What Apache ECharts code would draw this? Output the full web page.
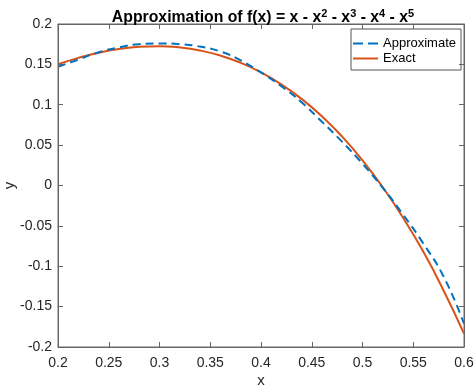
<!DOCTYPE html>
<html>
<head>
<meta charset="utf-8">
<script src="https://cdn.jsdelivr.net/npm/echarts@6/dist/echarts.min.js"></script>
<style>html,body{margin:0;padding:0;background:#fff}#c{width:474px;height:388px}</style>
</head>
<body>
<div id="c"></div>
<script>
const xValues = [0.20,0.22,0.24,0.26,0.28,0.30,0.32,0.34,0.36,0.38,0.40,0.42,0.44,0.46,0.48,0.50,0.52,0.54,0.56,0.58,0.60];
const approxValues = [0.147,0.156,0.165,0.171,0.175,0.176,0.175,0.172,0.166,0.155,0.140,0.123,0.103,0.079,0.054,0.027,-0.003,-0.036,-0.072,-0.113,-0.171];
const exactValues = [0.15008,0.158094,0.164462,0.169066,0.171780,0.17247,0.170991,0.167189,0.160901,0.151953,0.14016,0.125326,0.107243,0.085693,0.060443,0.03125,-0.002145,-0.040011,-0.082134,-0.130313,-0.18336];
const seriesNames = ['Approximate','Exact'];
const xRange = [0.2, 0.6];
const yRange = [-0.2, 0.2];
const titleText = 'Approximation of f(x) = x - x{s|2} - x{s|3} - x{s|4} - x{s|5}';

const font = 'Liberation Sans, Arial, Helvetica, sans-serif';
const axisCol = '#262626';
const boxCol = '#666666';
const chart = echarts.init(document.getElementById('c'), null, {renderer:'canvas'});
const pair = (ys) => xValues.map((x,i)=>[x, ys[i]]);
const fmt = v => String(Math.round(v*1000)/1000);
const mkAxis = (extra) => Object.assign({
  type:'value', axisLine:{show:true,onZero:false,lineStyle:{color:boxCol,width:1}},
  axisTick:{show:true,inside:true,length:5,lineStyle:{color:boxCol,width:1}},
  splitLine:{show:false}, nameMoveOverlap:false
}, extra);
chart.setOption({
  animation:false,
  title:{text:titleText,left:258,textAlign:'center',top:3,
    textStyle:{fontFamily:font,fontSize:15.8,fontWeight:'bold',color:'#000',
      rich:{s:{fontFamily:font,fontSize:11,fontWeight:'bold',color:'#000',verticalAlign:'top',padding:[0,0,9,0]}}}},
  grid:{left:58,right:10,top:24,bottom:41,show:true,borderColor:boxCol,borderWidth:1,
    outerBounds:{left:-60,right:-60,top:-60,bottom:-60}},
  legend:{right:13,top:29,orient:'vertical',itemWidth:25,itemHeight:2,itemGap:0,
    borderColor:'#555',borderWidth:1,padding:[7,5,4,2],borderRadius:0,
    textStyle:{fontFamily:font,fontSize:13,color:'#000',lineHeight:15},
    data:[
      {name:seriesNames[0],icon:'path://M0,0h10v2h-10z M15,0h10v2h-10z',itemStyle:{color:'#0072BD'}},
      {name:seriesNames[1],icon:'path://M0,0h25v2h-25z',itemStyle:{color:'#D95319'}}
    ]},
  xAxis:[
    mkAxis({min:xRange[0],max:xRange[1],interval:0.05,position:'bottom',
      name:'x',nameLocation:'middle',nameGap:26,nameTextStyle:{fontFamily:font,fontSize:15,color:axisCol},
      axisLabel:{fontFamily:font,fontSize:14,color:axisCol,margin:9,formatter:fmt}}),
    mkAxis({min:xRange[0],max:xRange[1],interval:0.05,position:'top',axisLabel:{show:false}})
  ],
  yAxis:[
    mkAxis({min:yRange[0],max:yRange[1],interval:0.05,position:'left',
      name:'y',nameLocation:'middle',nameGap:41,nameTextStyle:{fontFamily:font,fontSize:15,color:axisCol},
      axisLabel:{fontFamily:font,fontSize:14,color:axisCol,margin:6,formatter:fmt}}),
    mkAxis({min:yRange[0],max:yRange[1],interval:0.05,position:'right',axisLabel:{show:false}})
  ],
  series:[
    {name:seriesNames[0],type:'line',data:pair(approxValues),smooth:true,symbol:'none',
      lineStyle:{color:'#0072BD',width:2,type:[8,5]},itemStyle:{color:'#0072BD'},z:3},
    {name:seriesNames[1],type:'line',data:pair(exactValues),smooth:true,symbol:'none',clip:false,
      lineStyle:{color:'#D95319',width:2},itemStyle:{color:'#D95319'},z:2,
      markLine:{silent:true,symbol:['none','none'],label:{show:false},animation:false,
        lineStyle:{color:boxCol,width:1,type:'solid'},emphasis:{disabled:true},
        data:[{xAxis:xRange[0]},{xAxis:xRange[1]},{yAxis:yRange[0]},{yAxis:yRange[1]}]}}
  ]
});
</script>
</body>
</html>
